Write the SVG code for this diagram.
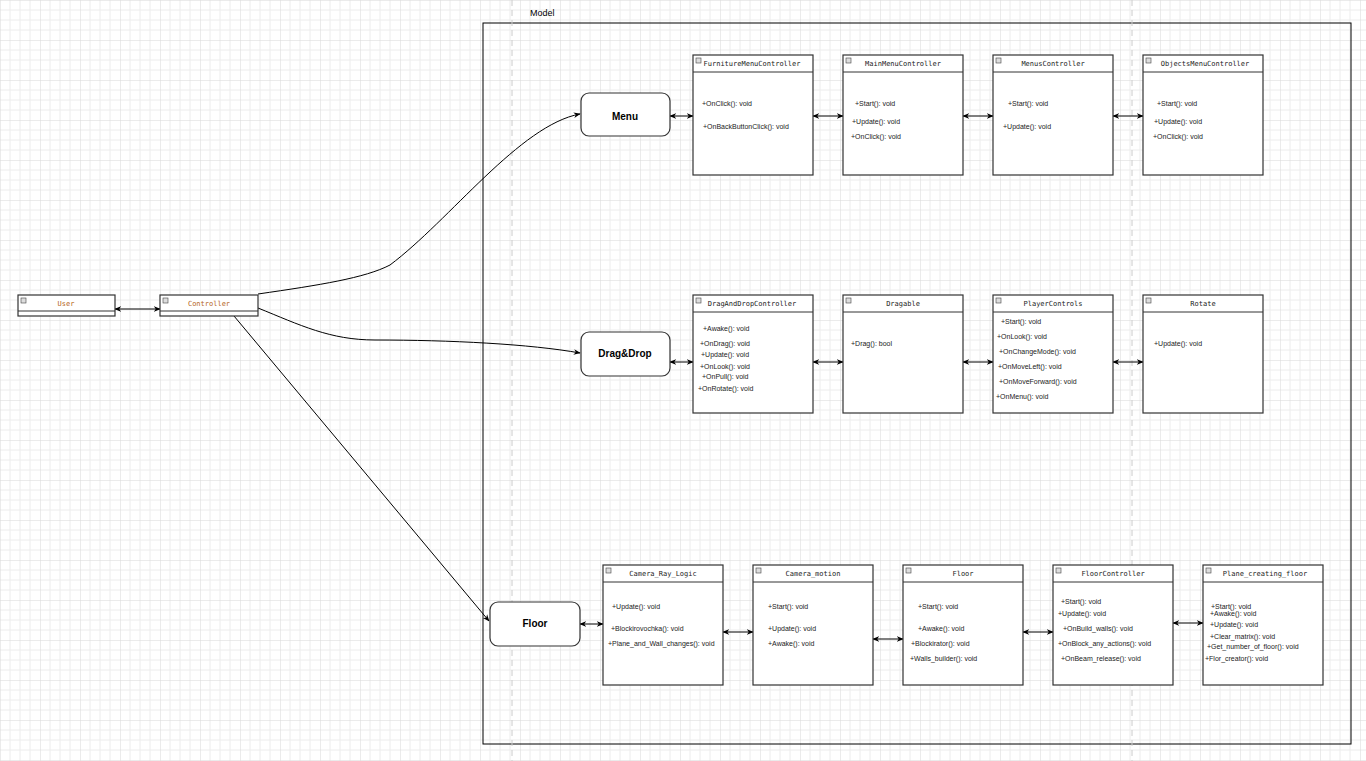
<svg xmlns="http://www.w3.org/2000/svg" width="1366" height="761" viewBox="0 0 1366 761">
<defs>
<pattern id="g" width="40" height="40" patternUnits="userSpaceOnUse">
<path d="M10 0V40M20 0V40M30 0V40M0 10H40M0 20H40M0 30H40" stroke="#ececec" stroke-width="1" fill="none"/>
<path d="M0 0V40M0 0H40" stroke="#d8d8d8" stroke-width="1" fill="none"/>
</pattern>
<marker id="a" viewBox="0 0 10 10" refX="9" refY="5" markerWidth="7" markerHeight="7" orient="auto-start-reverse"><path d="M0 1L10 5L0 9L3 5Z" fill="#000"/></marker>
</defs>
<style>
.c{fill:#fff;stroke:#333;stroke-width:1.2}
.h{font-family:"DejaVu Sans Mono",monospace;font-size:7px;fill:#222;text-anchor:middle}
.m{font-family:"Liberation Sans",Arial,sans-serif;font-size:7px;fill:#222}
.b{font-family:"Liberation Sans",Arial,sans-serif;font-size:10px;font-weight:bold;text-anchor:middle}
.k{fill:none;stroke:#000;stroke-width:1}
.ic{fill:#ddd;stroke:#444;stroke-width:.6}
</style>
<rect width="1366" height="761" fill="#fff"/>
<rect width="1366" height="761" fill="url(#g)"/>
<g id="model">
<rect x="483" y="23" width="868" height="721" fill="none" stroke="#000"/>
<line x1="512" y1="0" x2="512" y2="761" stroke="#ccc" stroke-dasharray="6 4"/>
<line x1="1132" y1="0" x2="1132" y2="761" stroke="#ccc" stroke-dasharray="6 4"/>
<text x="530" y="16" font-family="Liberation Sans,Arial,sans-serif" font-size="9">Model</text>
</g>
<g id="connectors" class="k">
<line x1="115" y1="309" x2="160" y2="309" marker-start="url(#a)" marker-end="url(#a)"/>
<path d="M258 294C320 285 365 278 390 265C450 220 520 125 580 114" marker-end="url(#a)"/>
<path d="M258 308C300 325 330 340 375 340C450 340 530 344 580 353" marker-end="url(#a)"/>
<line x1="234" y1="316" x2="489" y2="621" marker-end="url(#a)"/>
<line x1="670" y1="116" x2="693" y2="116" marker-start="url(#a)" marker-end="url(#a)"/>
<line x1="813" y1="116" x2="843" y2="116" marker-start="url(#a)" marker-end="url(#a)"/>
<line x1="963" y1="116" x2="993" y2="116" marker-start="url(#a)" marker-end="url(#a)"/>
<line x1="1113" y1="116" x2="1143" y2="116" marker-start="url(#a)" marker-end="url(#a)"/>
<line x1="670" y1="362" x2="693" y2="362" marker-start="url(#a)" marker-end="url(#a)"/>
<line x1="813" y1="362" x2="843" y2="362" marker-start="url(#a)" marker-end="url(#a)"/>
<line x1="963" y1="362" x2="993" y2="362" marker-start="url(#a)" marker-end="url(#a)"/>
<line x1="1113" y1="362" x2="1143" y2="362" marker-start="url(#a)" marker-end="url(#a)"/>
<line x1="580" y1="624" x2="603" y2="624" marker-start="url(#a)" marker-end="url(#a)"/>
<line x1="723" y1="632" x2="753" y2="632" marker-start="url(#a)" marker-end="url(#a)"/>
<line x1="873" y1="639" x2="903" y2="639" marker-start="url(#a)" marker-end="url(#a)"/>
<line x1="1023" y1="632" x2="1053" y2="632" marker-start="url(#a)" marker-end="url(#a)"/>
<line x1="1173" y1="623" x2="1203" y2="623" marker-start="url(#a)" marker-end="url(#a)"/>
</g>
<g id="user"><rect class="c" x="18" y="295" width="97" height="21"/><line x1="18" y1="311" x2="115" y2="311" stroke="#333"/><rect class="ic" x="21" y="298" width="5" height="5"/><text class="h" x="66" y="306" style="fill:#b5651d">User</text></g>
<g id="controller"><rect class="c" x="160" y="295" width="98" height="21"/><line x1="160" y1="311" x2="258" y2="311" stroke="#333"/><rect class="ic" x="163" y="298" width="5" height="5"/><text class="h" x="209" y="306" style="fill:#b5651d">Controller</text></g>
<g id="menu"><rect class="c" x="581" y="93" width="89" height="43" rx="8"/><text class="b" x="625" y="120">Menu</text></g>
<g id="dragdrop"><rect class="c" x="581" y="332" width="89" height="44" rx="8"/><text class="b" x="625" y="357">Drag&amp;Drop</text></g>
<g id="floorbox"><rect class="c" x="490" y="602" width="90" height="44" rx="8"/><text class="b" x="535" y="627">Floor</text></g>

<g id="furnitureMenuController"><rect class="c" x="693" y="55" width="120" height="120"/><line x1="693" y1="72" x2="813" y2="72" stroke="#333"/><rect class="ic" x="696" y="58" width="5" height="5"/><text class="h" x="752" y="66">FurnitureMenuController</text>
<text class="m" x="702" y="106">+OnClick(): void</text><text class="m" x="703" y="129">+OnBackButtonClick(): void</text></g>
<g id="mainMenuController"><rect class="c" x="843" y="55" width="120" height="120"/><line x1="843" y1="72" x2="963" y2="72" stroke="#333"/><rect class="ic" x="846" y="58" width="5" height="5"/><text class="h" x="903" y="66">MainMenuController</text>
<text class="m" x="855" y="106">+Start(): void</text><text class="m" x="852" y="124">+Update(): void</text><text class="m" x="851" y="139">+OnClick(): void</text></g>
<g id="menusController"><rect class="c" x="993" y="55" width="120" height="120"/><line x1="993" y1="72" x2="1113" y2="72" stroke="#333"/><rect class="ic" x="996" y="58" width="5" height="5"/><text class="h" x="1053" y="66">MenusController</text>
<text class="m" x="1008" y="106">+Start(): void</text><text class="m" x="1003" y="129">+Update(): void</text></g>
<g id="objectsMenuController"><rect class="c" x="1143" y="55" width="120" height="120"/><line x1="1143" y1="72" x2="1263" y2="72" stroke="#333"/><rect class="ic" x="1146" y="58" width="5" height="5"/><text class="h" x="1205" y="66">ObjectsMenuController</text>
<text class="m" x="1157" y="106">+Start(): void</text><text class="m" x="1154" y="124">+Update(): void</text><text class="m" x="1153" y="139">+OnClick(): void</text></g>

<g id="dragAndDropController"><rect class="c" x="693" y="295" width="120" height="118"/><line x1="693" y1="312" x2="813" y2="312" stroke="#333"/><rect class="ic" x="696" y="298" width="5" height="5"/><text class="h" x="752" y="306">DragAndDropController</text>
<text class="m" x="703" y="331">+Awake(): void</text><text class="m" x="700" y="346">+OnDrag(): void</text><text class="m" x="701" y="357">+Update(): void</text><text class="m" x="700" y="369">+OnLook(): void</text><text class="m" x="702" y="379">+OnPull(): void</text><text class="m" x="698" y="391">+OnRotate(): void</text></g>
<g id="dragable"><rect class="c" x="843" y="295" width="120" height="118"/><line x1="843" y1="312" x2="963" y2="312" stroke="#333"/><rect class="ic" x="846" y="298" width="5" height="5"/><text class="h" x="903" y="306">Dragable</text>
<text class="m" x="851" y="346">+Drag(): bool</text></g>
<g id="playerControls"><rect class="c" x="993" y="295" width="120" height="118"/><line x1="993" y1="312" x2="1113" y2="312" stroke="#333"/><rect class="ic" x="996" y="298" width="5" height="5"/><text class="h" x="1053" y="306">PlayerControls</text>
<text class="m" x="1001" y="324">+Start(): void</text><text class="m" x="997" y="339">+OnLook(): void</text><text class="m" x="999" y="354">+OnChangeMode(): void</text><text class="m" x="998" y="369">+OnMoveLeft(): void</text><text class="m" x="999" y="384">+OnMoveForward(): void</text><text class="m" x="996" y="399">+OnMenu(): void</text></g>
<g id="rotate"><rect class="c" x="1143" y="295" width="120" height="118"/><line x1="1143" y1="312" x2="1263" y2="312" stroke="#333"/><rect class="ic" x="1146" y="298" width="5" height="5"/><text class="h" x="1203" y="306">Rotate</text>
<text class="m" x="1154" y="346">+Update(): void</text></g>

<g id="cameraRayLogic"><rect class="c" x="603" y="565" width="120" height="120"/><line x1="603" y1="582" x2="723" y2="582" stroke="#333"/><rect class="ic" x="606" y="568" width="5" height="5"/><text class="h" x="663" y="576">Camera_Ray_Logic</text>
<text class="m" x="612" y="609">+Update(): void</text><text class="m" x="611" y="631">+Blockirovochka(): void</text><text class="m" x="608" y="646">+Plane_and_Wall_changes(): void</text></g>
<g id="cameraMotion"><rect class="c" x="753" y="565" width="120" height="120"/><line x1="753" y1="582" x2="873" y2="582" stroke="#333"/><rect class="ic" x="756" y="568" width="5" height="5"/><text class="h" x="813" y="576">Camera_motion</text>
<text class="m" x="768" y="609">+Start(): void</text><text class="m" x="768" y="631">+Update(): void</text><text class="m" x="768" y="646">+Awake(): void</text></g>
<g id="floor"><rect class="c" x="903" y="565" width="120" height="120"/><line x1="903" y1="582" x2="1023" y2="582" stroke="#333"/><rect class="ic" x="906" y="568" width="5" height="5"/><text class="h" x="963" y="576">Floor</text>
<text class="m" x="918" y="609">+Start(): void</text><text class="m" x="918" y="631">+Awake(): void</text><text class="m" x="911" y="646">+Blockirator(): void</text><text class="m" x="910" y="661">+Walls_builder(): void</text></g>
<g id="floorController"><rect class="c" x="1053" y="565" width="120" height="120"/><line x1="1053" y1="582" x2="1173" y2="582" stroke="#333"/><rect class="ic" x="1056" y="568" width="5" height="5"/><text class="h" x="1113" y="576">FloorController</text>
<text class="m" x="1061" y="604">+Start(): void</text><text class="m" x="1058" y="616">+Update(): void</text><text class="m" x="1063" y="631">+OnBuild_walls(): void</text><text class="m" x="1058" y="646">+OnBlock_any_actions(): void</text><text class="m" x="1061" y="661">+OnBeam_release(): void</text></g>
<g id="planeCreatingFloor"><rect class="c" x="1203" y="565" width="120" height="120"/><line x1="1203" y1="582" x2="1323" y2="582" stroke="#333"/><rect class="ic" x="1206" y="568" width="5" height="5"/><text class="h" x="1265" y="576">Plane_creating_floor</text>
<text class="m" x="1211" y="609">+Start(): void</text><text class="m" x="1210" y="616">+Awake(): void</text><text class="m" x="1210" y="627">+Update(): void</text><text class="m" x="1210" y="639">+Clear_matrix(): void</text><text class="m" x="1207" y="649">+Get_number_of_floor(): void</text><text class="m" x="1205" y="661">+Flor_creator(): void</text></g>
</svg>
